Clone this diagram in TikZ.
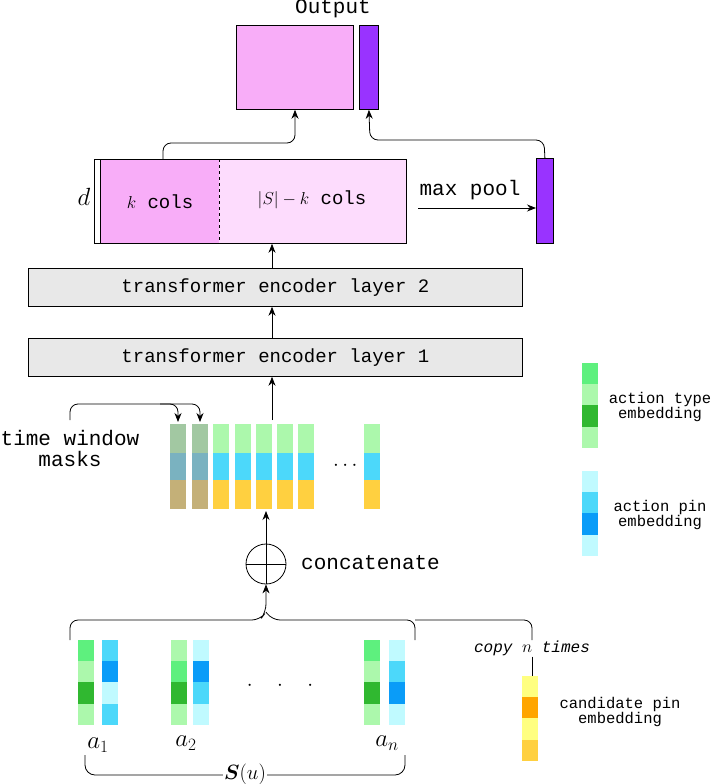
\documentclass[tikz,border=0pt]{standalone}
\usepackage{amsmath,bm}
\usepackage{fontspec}
\setmonofont{Liberation Mono}
\usetikzlibrary{arrows.meta,positioning}
\definecolor{gB}{HTML}{5EF07E}
\definecolor{gL}{HTML}{ACF8AC}
\definecolor{gD}{HTML}{30B830}
\definecolor{bM}{HTML}{4CD8FA}
\definecolor{bD}{HTML}{0A9CF8}
\definecolor{bP}{HTML}{C0FAFF}
\definecolor{yL}{HTML}{FFFF80}
\definecolor{yO}{HTML}{FFA500}
\definecolor{yD}{HTML}{FFD040}
\definecolor{mG}{HTML}{A2C8A2}
\definecolor{mB}{HTML}{7AB2C0}
\definecolor{mY}{HTML}{C4B078}
\definecolor{pinkA}{HTML}{F8ADF8}
\definecolor{pinkB}{HTML}{FDDCFD}
\definecolor{purp}{HTML}{9933FF}
\newcommand{\fs}[1]{\fontsize{#1}{#1}\selectfont}
\tikzset{
  >={Stealth[length=9pt,width=7pt]},
  lbl/.style={font=\ttfamily\fs{21}, align=center, inner sep=1pt},
  slbl/.style={font=\ttfamily\fs{15.5}, align=center, inner sep=1pt},
  layer/.style={draw, thick, fill=black!9, minimum width=494pt, minimum height=38pt, font=\ttfamily\fs{19}, anchor=north west},
  arr/.style={->, thick},
  link/.style={thick, rounded corners=6pt},
}
% column of 4 cells: x, ytop, colors
\newcommand{\colfour}[6]{%
  \fill[#3] (#1,#2) rectangle ++(16,21);
  \fill[#4] (#1,#2+21) rectangle ++(16,21);
  \fill[#5] (#1,#2+42) rectangle ++(16,22);
  \fill[#6] (#1,#2+64) rectangle ++(16,21);}
\newcommand{\colthree}[4]{%
  \fill[#2] (#1,424) rectangle ++(16,29);
  \fill[#3] (#1,453) rectangle ++(16,27);
  \fill[#4] (#1,480) rectangle ++(16,29);}
\begin{document}
\begin{tikzpicture}[x=1pt,y=-1pt]
\useasboundingbox (0,0) rectangle (721,784);
% output
\node[lbl] (out) at (333,9) {Output};
\node[draw, thick, fill=pinkA, minimum width=117pt, minimum height=84pt, anchor=north west, inner sep=0] (obox) at (236,25) {};
\node[draw, thick, fill=purp, minimum width=19pt, minimum height=84pt, anchor=north west, inner sep=0] (obar) at (359,25) {};
% main matrix
\fill[pinkA] (100,159) rectangle (219,243);
\fill[pinkB] (219,159) rectangle (406,243);
\draw[dashed] (219,159) -- (219,243);
\node[draw, thick, minimum width=306pt, minimum height=84pt, anchor=north west, inner sep=0] (mat) at (100,159) {};
\node[lbl, font=\ttfamily\fs{19}] (kc) at (160,202) {$k$ cols};
\node[lbl, font=\ttfamily\fs{19}] (rc) at (312,200) {$|S|-k$ cols};
\draw (100,159) -- (94,159) -- (94,243) -- (100,243);
\node[font=\fs{24}] (d) at (84,197) {$d$};
\node[lbl] (mp) at (470,190) {max pool};
\coordinate (mps) at (418,208);
\node[draw, thick, fill=purp, minimum width=17pt, minimum height=85pt, anchor=north west, inner sep=0] (pbar) at (536,158) {};
\draw[arr] (mps) -- (pbar.west |- mps);
\draw[arr, rounded corners=8pt] (163,159) -- (163,143) -- (295,143) -- (obox.south -| 295,0);
\draw[arr, rounded corners=8pt] (pbar.north) -- (544,140) -- (370,140) -- (obar.south);
% layers
\node[layer] (l2) at (28,268) {transformer encoder layer 2};
\node[layer] (l1) at (28,338) {transformer encoder layer 1};
\draw[arr] (l2.north -| 272,0) -- (mat.south -| 272,0);
\draw[arr] (l1.north -| 272,0) -- (l2.south -| 272,0);
\coordinate (seqtop) at (272,420);
\draw[arr] (seqtop) -- (l1.south -| 272,0);
% sequence columns
\colthree{170}{mG}{mB}{mY}
\colthree{192}{mG}{mB}{mY}
\foreach \x in {213,235,256,277,298,364}{\colthree{\x}{gL}{bM}{yD}}
\node[font=\fs{20}] (sd) at (347,466) {$\cdots$};
\node[lbl] (tw) at (70,448) {time window\\masks};
\draw[arr, rounded corners=8pt] (70,420) -- (70,404) -- (200,404) -- (200,422);
\draw[arr, rounded corners=8pt] (160,404) -- (178,404) -- (178,422);
% concatenate
\node[draw, thick, circle, minimum size=40pt, inner sep=0] (cat) at (266,564) {};
\draw[thick] (cat.north) -- (cat.south) (cat.west) -- (cat.east);
\node[lbl, anchor=west] (ct) at (300,563) {concatenate};
\draw[arr] (cat.north) -- (266,511);
% brace top
\draw[arr, rounded corners=8pt] (70,640) -- (70,620) -- (260,620) -- (266,612) -- (cat.south);
\draw[link, rounded corners=8pt] (415,640) -- (415,620) -- (272,620) -- (266,612);
\draw[link, rounded corners=8pt] (415,620) -- (532,620) -- (532,640);
% actions
\colfour{78}{640}{gB}{gL}{gD}{gL}
\colfour{102}{640}{bM}{bD}{bP}{bM}
\colfour{171}{640}{gL}{gB}{gD}{gL}
\colfour{193}{640}{bP}{bD}{bM}{bP}
\colfour{364}{640}{gB}{gL}{gD}{gL}
\colfour{389}{640}{bP}{bM}{bD}{bP}
\node[font=\fs{20}] (ad) at (280,686) {$\cdot\quad\cdot\quad\cdot$};
\node[font=\fs{25}] (a1) at (98,745) {$a_1$};
\node[font=\fs{25}] (a2) at (186,743) {$a_2$};
\node[font=\fs{25}] (an) at (387,743) {$a_n$};
\draw[link, rounded corners=10pt] (85,755) -- (85,775) -- (405,775) -- (405,755);
\node[fill=white, inner sep=1pt, font=\fs{22}] (su) at (245,774) {$\bm{S}(u)$};
% candidate
\node[font=\ttfamily\itshape\fs{16}, inner sep=1pt] (copy) at (532,648) {copy $n$ times};
\colfour{522}{676}{yL}{yO}{yL}{yD}
\draw[thick] (copy.south -| 532,0) -- (532,676);
\node[slbl] (cpe) at (620,712) {candidate pin\\embedding};
% legend
\colfour{582}{363}{gB}{gL}{gD}{gL}
\node[slbl] (ate) at (660,407) {action type\\embedding};
\colfour{582}{471}{bP}{bM}{bD}{bP}
\node[slbl] (ape) at (660,515) {action pin\\embedding};
\end{tikzpicture}
\end{document}
